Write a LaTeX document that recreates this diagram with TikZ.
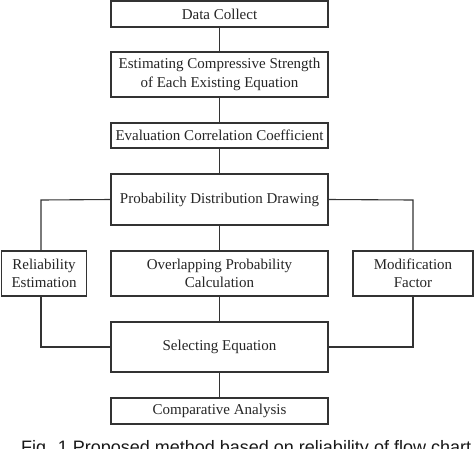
\documentclass[tikz,border=0pt]{standalone}
\usepackage{fontspec}
\setmainfont{Liberation Serif}
\newfontfamily\capfont{Liberation Sans}
\begin{document}
\begin{tikzpicture}[x=1pt,y=-1pt,
  boxnode/.style={draw=black!80, line width=1.1pt, fill=white, align=center,
    inner sep=0pt, font=\fontsize{15}{18.5}\selectfont, text=black!85},
  wide/.style={boxnode, minimum width=217pt},
  conn/.style={draw=black!80, line width=1.1pt}]
\useasboundingbox (0,0) rectangle (474,448);
\clip (0,0) rectangle (474,448);
\fill[white] (0,0) rectangle (474,448);
% boxes
\node[wide, minimum height=26pt] (dc) at (219.5,14) {Data Collect};
\node[wide, minimum height=45pt] (ecs) at (219.5,74.5) {Estimating Compressive Strength\\of Each Existing Equation};
\node[wide, minimum height=25pt] (ecc) at (219.5,135.5) {Evaluation Correlation Coefficient};
\node[wide, minimum height=51pt] (pdd) at (219.5,199.5) {Probability Distribution Drawing};
\node[boxnode, minimum width=85pt, minimum height=45pt] (rel) at (44,273.5) {Reliability\\Estimation};
\node[wide, minimum height=45pt] (opc) at (219.5,273.5) {Overlapping Probability\\Calculation};
\node[boxnode, minimum width=120pt, minimum height=45pt] (mf) at (413,273.5) {Modification\\Factor};
\node[wide, minimum height=50pt] (se) at (219.5,347) {Selecting Equation};
\node[wide, minimum height=26pt] (ca) at (219.5,411) {Comparative Analysis};
% caption
\node[anchor=base west, inner sep=0pt, font=\capfont\fontsize{18}{20}\selectfont, text=black!90] (cap) at (21,453) {Fig. 1 Proposed method based on reliability of flow chart};
% connectors
\coordinate (lt) at (41,200);
\coordinate (rt) at (413,200);
\draw[conn] (dc) -- (ecs);
\draw[conn] (ecs) -- (ecc);
\draw[conn] (ecc) -- (pdd);
\draw[conn] (pdd) -- (opc);
\draw[conn] (opc) -- (se);
\draw[conn] (se) -- (ca);
\draw[conn] (pdd.west) -- (lt) -- (lt |- rel.north);
\draw[conn] (pdd.east) -- (rt) -- (rt |- mf.north);
\draw[conn] (lt |- rel.south) |- (se.west);
\draw[conn] (rt |- mf.south) |- (se.east);
\end{tikzpicture}
\end{document}
